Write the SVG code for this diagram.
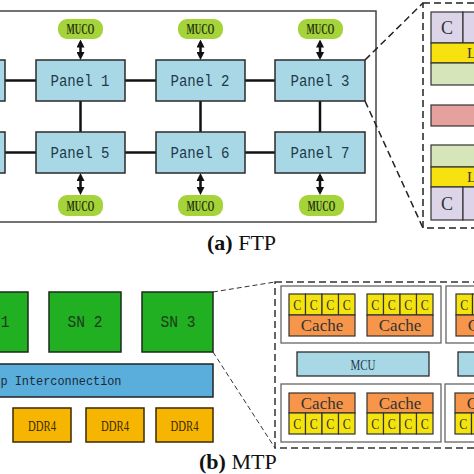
<svg xmlns="http://www.w3.org/2000/svg" width="474" height="474" viewBox="0 0 474 474">
<style>
.panel{fill:#a8d8e6;stroke:#2b2b2b;stroke-width:1.5}
.muco{fill:#a5d33a;stroke:none}
.ptxt{font-family:"Liberation Mono",monospace;font-size:16px;fill:#1f3a4a;text-anchor:middle}
.mtxt{font-family:"Liberation Serif",serif;font-size:14.5px;font-weight:bold;fill:#2a3a10;text-anchor:middle}
.conn{stroke:#111;stroke-width:2.5;fill:none}
.dash{stroke:#222;stroke-width:1.5;stroke-dasharray:7 4;fill:none}
.dashs{stroke:#333;stroke-width:1;stroke-dasharray:5 3;fill:none}
.frame{fill:#fff;stroke:#444;stroke-width:1.5}
.pur{fill:#dcd5ea;stroke:#333;stroke-width:1.2}
.yel{fill:#f7e20f;stroke:#333;stroke-width:1.2}
.lgr{fill:#d7e5bb;stroke:#333;stroke-width:1.2}
.pink{fill:#e5a19b;stroke:#333;stroke-width:1.2}
.sn{fill:#21b021;stroke:#1b2b1b;stroke-width:1.5}
.sntxt{font-family:"Liberation Mono",monospace;font-size:16px;fill:#1b3b1b;text-anchor:middle}
.ic{fill:#5aaedb;stroke:#222;stroke-width:1.5}
.ddr{fill:#f6b500;stroke:#3a2a00;stroke-width:1.5}
.dtxt{font-family:"Liberation Serif",serif;font-size:14.5px;fill:#3a2a00;text-anchor:middle}
.grp{fill:#fff;stroke:#666;stroke-width:1.3}
.cc{fill:#f5e30e;stroke:#333;stroke-width:1.2}
.cache{fill:#f7964a;stroke:#333;stroke-width:1.2}
.mcu{fill:#a8d8e6;stroke:#2b2b2b;stroke-width:1.3}
.ctxt{font-family:"Liberation Serif",serif;font-size:15px;fill:#333;text-anchor:middle}
.catxt{font-family:"Liberation Serif",serif;font-size:17px;fill:#333;text-anchor:middle}
.cap{font-family:"Liberation Serif",serif;font-size:22px;fill:#111}
</style>
<defs>
<marker id="ah" viewBox="0 0 8 8" refX="5" refY="4" markerWidth="8" markerHeight="8" markerUnits="userSpaceOnUse" orient="auto-start-reverse">
<path d="M0,0 L8,4 L0,8 z" fill="#111"/>
</marker>
<g id="clusterTop">
<rect class="cc" x="0" y="0" width="16.5" height="21"/>
<rect class="cc" x="16.5" y="0" width="16.5" height="21"/>
<rect class="cc" x="33" y="0" width="16.5" height="21"/>
<rect class="cc" x="49.5" y="0" width="16.5" height="21"/>
<rect class="cache" x="0" y="21" width="66" height="21"/>
<text class="ctxt" x="8.25" y="16" textLength="8" lengthAdjust="spacingAndGlyphs">C</text>
<text class="ctxt" x="24.75" y="16" textLength="8" lengthAdjust="spacingAndGlyphs">C</text>
<text class="ctxt" x="41.25" y="16" textLength="8" lengthAdjust="spacingAndGlyphs">C</text>
<text class="ctxt" x="57.75" y="16" textLength="8" lengthAdjust="spacingAndGlyphs">C</text>
<text class="catxt" x="33" y="37">Cache</text>
</g>
<g id="clusterBot">
<rect class="cache" x="0" y="0" width="66" height="20"/>
<rect class="cc" x="0" y="20" width="16.5" height="21"/>
<rect class="cc" x="16.5" y="20" width="16.5" height="21"/>
<rect class="cc" x="33" y="20" width="16.5" height="21"/>
<rect class="cc" x="49.5" y="20" width="16.5" height="21"/>
<text class="catxt" x="33" y="16">Cache</text>
<text class="ctxt" x="8.25" y="36" textLength="8" lengthAdjust="spacingAndGlyphs">C</text>
<text class="ctxt" x="24.75" y="36" textLength="8" lengthAdjust="spacingAndGlyphs">C</text>
<text class="ctxt" x="41.25" y="36" textLength="8" lengthAdjust="spacingAndGlyphs">C</text>
<text class="ctxt" x="57.75" y="36" textLength="8" lengthAdjust="spacingAndGlyphs">C</text>
</g>
</defs>
<rect width="474" height="474" fill="#fff"/>

<!-- (a) FTP frame -->
<rect class="frame" x="-20" y="11" width="396" height="211"/>

<g id="connectors">
<line class="conn" x1="5" y1="80.5" x2="36" y2="80.5"/>
<line class="conn" x1="125" y1="80.5" x2="156" y2="80.5"/>
<line class="conn" x1="245" y1="80.5" x2="275" y2="80.5"/>
<line class="conn" x1="5" y1="152.5" x2="36" y2="152.5"/>
<line class="conn" x1="125" y1="152.5" x2="156" y2="152.5"/>
<line class="conn" x1="245" y1="152.5" x2="275" y2="152.5"/>
<line class="conn" x1="80.5" y1="101" x2="80.5" y2="132"/>
<line class="conn" x1="200.5" y1="101" x2="200.5" y2="132"/>
<line class="conn" x1="320" y1="101" x2="320" y2="132"/>
<line class="conn" x1="80.5" y1="42.5" x2="80.5" y2="57" marker-start="url(#ah)" marker-end="url(#ah)"/>
<line class="conn" x1="200.5" y1="42.5" x2="200.5" y2="57" marker-start="url(#ah)" marker-end="url(#ah)"/>
<line class="conn" x1="320" y1="42.5" x2="320" y2="57" marker-start="url(#ah)" marker-end="url(#ah)"/>
<line class="conn" x1="80.5" y1="176" x2="80.5" y2="192" marker-start="url(#ah)" marker-end="url(#ah)"/>
<line class="conn" x1="200.5" y1="176" x2="200.5" y2="192" marker-start="url(#ah)" marker-end="url(#ah)"/>
<line class="conn" x1="320" y1="176" x2="320" y2="192" marker-start="url(#ah)" marker-end="url(#ah)"/>
<line class="dash" x1="365" y1="60" x2="423" y2="3"/>
<line class="dash" x1="365" y1="101" x2="423" y2="228"/>
<line class="dashs" x1="213" y1="292" x2="275" y2="282"/>
<line class="dashs" x1="213" y1="352" x2="275" y2="448"/>
</g>

<g id="panel4"><rect class="panel" x="-84" y="132" width="89" height="41"/></g>
<g id="panel0"><rect class="panel" x="-84" y="60" width="89" height="41"/></g>
<g id="panel1"><rect class="panel" x="36" y="60" width="89" height="41"/><text class="ptxt" x="80" y="86" textLength="59" lengthAdjust="spacingAndGlyphs">Panel 1</text></g>
<g id="panel2"><rect class="panel" x="156" y="60" width="89" height="41"/><text class="ptxt" x="200" y="86" textLength="59" lengthAdjust="spacingAndGlyphs">Panel 2</text></g>
<g id="panel3"><rect class="panel" x="275" y="60" width="90" height="41"/><text class="ptxt" x="320" y="86" textLength="59" lengthAdjust="spacingAndGlyphs">Panel 3</text></g>
<g id="panel5"><rect class="panel" x="36" y="132" width="89" height="41"/><text class="ptxt" x="80" y="158" textLength="59" lengthAdjust="spacingAndGlyphs">Panel 5</text></g>
<g id="panel6"><rect class="panel" x="156" y="132" width="89" height="41"/><text class="ptxt" x="200" y="158" textLength="59" lengthAdjust="spacingAndGlyphs">Panel 6</text></g>
<g id="panel7"><rect class="panel" x="275" y="132" width="90" height="41"/><text class="ptxt" x="320" y="158" textLength="59" lengthAdjust="spacingAndGlyphs">Panel 7</text></g>

<g id="muco1"><rect class="muco" x="58" y="19" width="45" height="20" rx="9"/><text class="mtxt" x="80.5" y="34" textLength="28" lengthAdjust="spacingAndGlyphs">MUCO</text></g>
<g id="muco2"><rect class="muco" x="178" y="19" width="45" height="20" rx="9"/><text class="mtxt" x="200.5" y="34" textLength="28" lengthAdjust="spacingAndGlyphs">MUCO</text></g>
<g id="muco3"><rect class="muco" x="298" y="19" width="45" height="20" rx="9"/><text class="mtxt" x="320.5" y="34" textLength="28" lengthAdjust="spacingAndGlyphs">MUCO</text></g>
<g id="muco5"><rect class="muco" x="58" y="195" width="45" height="21" rx="9"/><text class="mtxt" x="80.5" y="210.5" textLength="28" lengthAdjust="spacingAndGlyphs">MUCO</text></g>
<g id="muco6"><rect class="muco" x="178" y="195" width="45" height="21" rx="9"/><text class="mtxt" x="200.5" y="210.5" textLength="28" lengthAdjust="spacingAndGlyphs">MUCO</text></g>
<g id="muco7"><rect class="muco" x="299" y="195" width="45" height="21" rx="9"/><text class="mtxt" x="321.5" y="210.5" textLength="28" lengthAdjust="spacingAndGlyphs">MUCO</text></g>

<g id="insetA">
<rect class="dash" x="423" y="3" width="80" height="225"/>
<rect class="pur" x="431" y="12" width="32" height="31"/>
<rect class="pur" x="463" y="12" width="40" height="31"/>
<rect class="yel" x="431" y="43" width="72" height="20"/>
<rect class="lgr" x="431" y="63" width="72" height="22"/>
<rect class="pink" x="431" y="105" width="72" height="21"/>
<rect class="lgr" x="431" y="145" width="72" height="22"/>
<rect class="yel" x="431" y="167" width="72" height="20"/>
<rect class="pur" x="431" y="187" width="32" height="33"/>
<rect class="pur" x="463" y="187" width="40" height="33"/>
<text class="ctxt" x="447" y="34" style="font-size:18px">C</text>
<text class="ctxt" x="447" y="210" style="font-size:18px">C</text>
<text class="ctxt" x="467" y="58" style="text-anchor:start">L</text>
<text class="ctxt" x="467" y="182" style="text-anchor:start">L</text>
</g>

<text class="cap" x="207" y="250"><tspan font-weight="bold">(a)</tspan> FTP</text>

<g id="sn1"><rect class="sn" x="-44" y="292" width="72" height="60"/><text class="sntxt" x="-8" y="327" textLength="35" lengthAdjust="spacingAndGlyphs">SN 1</text></g>
<g id="sn2"><rect class="sn" x="49" y="292" width="72" height="60"/><text class="sntxt" x="85" y="327" textLength="35" lengthAdjust="spacingAndGlyphs">SN 2</text></g>
<g id="sn3"><rect class="sn" x="142" y="292" width="71" height="60"/><text class="sntxt" x="178" y="327" textLength="35" lengthAdjust="spacingAndGlyphs">SN 3</text></g>

<g id="interconnect"><rect class="ic" x="-20" y="364" width="233" height="33"/>
<text x="0.5" y="385" style="font-family:'Liberation Mono',monospace;font-size:13.5px;fill:#1a2a3a" textLength="121" lengthAdjust="spacingAndGlyphs">p Interconnection</text></g>

<g id="ddr1"><rect class="ddr" x="13" y="408" width="58" height="34"/><text class="dtxt" x="42" y="430.5" textLength="28" lengthAdjust="spacingAndGlyphs">DDR4</text></g>
<g id="ddr2"><rect class="ddr" x="86" y="408" width="58" height="34"/><text class="dtxt" x="115" y="430.5" textLength="28" lengthAdjust="spacingAndGlyphs">DDR4</text></g>
<g id="ddr3"><rect class="ddr" x="156" y="408" width="57" height="34"/><text class="dtxt" x="184.5" y="430.5" textLength="28" lengthAdjust="spacingAndGlyphs">DDR4</text></g>

<g id="insetB">
<rect class="dashs" x="275" y="282" width="220" height="166" style="stroke-width:1.5;stroke-dasharray:7 4"/>
<rect class="grp" x="281" y="286" width="160" height="57"/>
<rect class="grp" x="446" y="286" width="160" height="57"/>
<use href="#clusterTop" x="289" y="294"/>
<use href="#clusterTop" x="367" y="294"/>
<use href="#clusterTop" x="456" y="294"/>
<rect class="mcu" x="297" y="352" width="132" height="24"/>
<text class="dtxt" x="363" y="369.5" style="fill:#1f3a4a" textLength="25" lengthAdjust="spacingAndGlyphs">MCU</text>
<rect class="mcu" x="458" y="352" width="132" height="24"/>
<rect class="grp" x="281" y="384" width="160" height="58"/>
<rect class="grp" x="445" y="384" width="160" height="58"/>
<use href="#clusterBot" x="289" y="393"/>
<use href="#clusterBot" x="367" y="393"/>
<use href="#clusterBot" x="455" y="393"/>
</g>

<text class="cap" x="199" y="469"><tspan font-weight="bold">(b)</tspan> MTP</text>
</svg>
